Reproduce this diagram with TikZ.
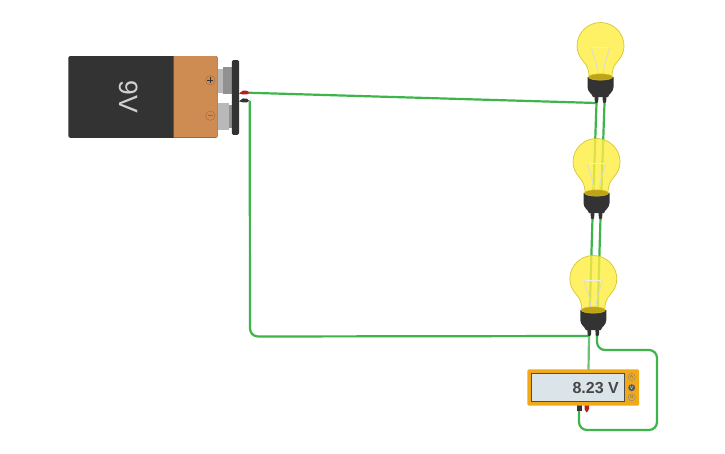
\documentclass[tikz,border=0pt]{standalone}
\usepackage{fontspec}
\setmainfont{Liberation Sans}
\definecolor{wiregreen}{HTML}{3DB54A}
\definecolor{wirepale}{HTML}{6FC078}
\definecolor{darkbody}{HTML}{333333}
\definecolor{copper}{HTML}{CF8C52}
\definecolor{bulbfill}{HTML}{FFEE40}
\definecolor{bulbline}{HTML}{D8C52E}
\definecolor{bulbbase}{HTML}{BFA316}
\definecolor{meterorange}{HTML}{F2A917}
\definecolor{screenblue}{HTML}{DAE4E9}
\definecolor{leadred}{HTML}{B5201F}
\tikzset{
  wire/.style={draw=wiregreen,line width=2.2pt,rounded corners=8pt},
  dial/.style={circle,draw=#1,fill=meterorange,line width=0.5pt,inner sep=0pt,minimum size=7pt,font=\fontsize{4.5}{4.5}\selectfont,text=black!60},
  bulb/.pic={
    \fill[bulbfill,fill opacity=0.8] (-11.5,31.5) .. controls (-11.5,24) and (-13,20) .. (-17,15.5) .. controls (-21,11) and (-23.5,6) .. (-23.5,0) .. controls (-23.5,-13) and (-13,-23.5) .. (0,-23.5) .. controls (13,-23.5) and (23.5,-13) .. (23.5,0) .. controls (23.5,6) and (21,11) .. (17,15.5) .. controls (13,20) and (11.5,24) .. (11.5,31.5) -- cycle;
    \draw[bulbline,line width=0.7pt] (-11.5,31.5) .. controls (-11.5,24) and (-13,20) .. (-17,15.5) .. controls (-21,11) and (-23.5,6) .. (-23.5,0) .. controls (-23.5,-13) and (-13,-23.5) .. (0,-23.5) .. controls (13,-23.5) and (23.5,-13) .. (23.5,0) .. controls (23.5,6) and (21,11) .. (17,15.5) .. controls (13,20) and (11.5,24) .. (11.5,31.5);
    \draw[white!85!gray,line width=0.9pt] (-9,1.5) -- (9,1.5);
    \draw[white!72!gray,line width=0.8pt] (-9,1.5) .. controls (-7,12) and (-3,16) .. (-2.5,31);
    \draw[white!72!gray,line width=0.8pt] (9,1.5) .. controls (7,12) and (3,16) .. (2.5,31);
    \fill[darkbody,rounded corners=1pt] (-6,49) -- (-2,49) -- (-2.4,57) -- (-5.6,57) -- cycle;
    \fill[darkbody,rounded corners=1pt] (2,49) -- (6,49) -- (5.6,57) -- (2.4,57) -- cycle;
    \fill[darkbody] (-13,31) -- (13,31) -- (13,41) .. controls (13,46) and (8.5,47.5) .. (7.5,51) -- (-7.5,51) .. controls (-8.5,47.5) and (-13,46) .. (-13,41) -- cycle;
    \fill[bulbbase,draw=bulbline,line width=0.4pt] (0,31) ellipse (12 and 3.2);
  }
}
\begin{document}
\begin{tikzpicture}[x=1pt,y=-1pt]
\useasboundingbox (0,0) rectangle (725,453);
\fill[white] (0,0) rectangle (725,453);
% terminals
\coordinate (batP) at (247,92.7);
\coordinate (batN) at (249.7,100.5);
\coordinate (b1L) at (596.5,103);
\coordinate (b1R) at (604.5,103);
\coordinate (b2L) at (592.5,218);
\coordinate (b2R) at (600.5,218);
\coordinate (b3L) at (589,336);
\coordinate (b3R) at (597,336);
\coordinate (mN) at (579,411);
\coordinate (mP) at (588.5,370);
\coordinate (c1) at (250,336.5);
\coordinate (c2) at (597,350);
\coordinate (c3) at (657,350);
\coordinate (c4) at (657,430);
\coordinate (c5) at (579,430);
% wires
\draw[wire] (batP) -- (b1L);
\draw[wire] (batN) -- (c1) -- (b3L);
\draw[wire] (b1L) -- (b2L);
\draw[wire] (b1R) -- (b2R);
\draw[wire] (b2L) -- (b3L);
\draw[wire] (b2R) -- (b3R);
\draw[wire,draw=wirepale] (b3L) -- (mP);
\draw[wire] (b3R) -- (c2) -- (c3) -- (c4) -- (c5) -- (mN);
% bulbs
\pic (bulbA) at (600.5,46) {bulb};
\pic (bulbB) at (596.5,162) {bulb};
\pic (bulbC) at (593.3,279) {bulb};
% battery
\fill[gray!55!white] (218,68.5) rectangle (223,93);
\fill[black!43!white] (223,66.5) rectangle (232,94);
\fill[gray!55!white] (218,102.5) rectangle (228.5,129.5);
\fill[black!43!white] (228.5,105) rectangle (232,127.5);
\node[inner sep=0pt,minimum width=149.4pt,minimum height=81.7pt,fill=darkbody,rounded corners=1.5pt] (batBody) at (143,96.9) {};
\fill[copper,rounded corners=1.5pt] (195,56) -- (217.7,56) -- (217.7,137.7) -- (195,137.7) [sharp corners] -- (173.7,137.7) -- (173.7,56) -- cycle;
\node[text=white!82!black,font=\fontsize{26.5}{26.5}\selectfont,rotate=-90,inner sep=0pt] (nineV) at (129,97) {9V};
\node[circle,draw=copper!80!black,line width=0.5pt,minimum size=9.5pt,inner sep=0pt] (plus) at (210.3,80.3) {};
\node[circle,draw=copper!80!black,line width=0.5pt,minimum size=9.5pt,inner sep=0pt] (minus) at (210.3,115.7) {};
\draw[darkbody,line width=0.7pt] (207.3,80.3) -- (213.3,80.3) (210.3,77.3) -- (210.3,83.3);
\draw[darkbody!70!white,line width=0.7pt] (207.8,115.7) -- (212.8,115.7);
\node[inner sep=0pt,minimum width=7.3pt,minimum height=74.7pt,fill=darkbody,rounded corners=1.5pt] (clip) at (235.4,97.4) {};
\fill[leadred] (239,93.5) -- (243,90.6) .. controls (246,90) and (249,91) .. (249,92.6) .. controls (249,94.2) and (246,95) .. (243,94.5) -- cycle;
\fill[darkbody] (239,101.3) -- (243,98.4) .. controls (246,98) and (249,99) .. (249,100.6) .. controls (249,102.2) and (246,103) .. (243,102.4) -- cycle;
% meter
\fill[darkbody] (577,405) rectangle (581.5,411);
\fill[leadred] (584.5,405) -- (589,405) -- (589,409) -- (587.3,412) -- (586.2,412) -- (584.5,409) -- cycle;
\node[inner sep=0pt,minimum width=111.7pt,minimum height=36.4pt,fill=meterorange,rounded corners=1.5pt] (meter) at (583.2,387.5) {};
\node[draw=black!70,line width=1pt,fill=screenblue,inner sep=0pt,minimum width=93.4pt,minimum height=27.3pt] (screen) at (578,387.4) {};
\node[anchor=east,inner sep=0pt,text=darkbody!90!white,font=\bfseries\fontsize{16}{16}\selectfont] (value) at (619,387.5) {8.23 V};
\node[dial=black!45] (dA) at (631.7,377) {A};
\node[circle,fill=black!65,inner sep=0pt,minimum size=7pt,text=white,font=\fontsize{4.5}{4.5}\selectfont] (dB) at (631.7,387.7) {V};
\node[dial=black!45] (dC) at (631.7,397.3) {Ω};
\end{tikzpicture}
\end{document}
